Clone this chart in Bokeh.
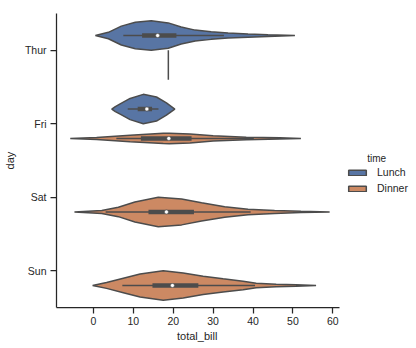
from bokeh.plotting import figure
from bokeh.models import Range1d, FixedTicker, Legend, LegendItem, Label, Title
from bokeh.embed import file_html
from bokeh.resources import INLINE

# ---- categories ----
days = ["Thur", "Fri", "Sat", "Sun"]
times = ["Lunch", "Dinner"]
x_ticks = [0, 10, 20, 30, 40, 50, 60]

# ---- violin outlines (total_bill, relative half-width) ----
thur_lunch_bill = [0.5, 3.75, 7.0, 10.5, 14.5, 18.75, 22.0, 25.5, 29.5, 33.75, 38.75, 43.75, 50.5]
thur_lunch_dens = [0.0, 0.22, 0.64, 0.90, 1.0, 0.86, 0.58, 0.37, 0.26, 0.17, 0.11, 0.06, 0.0]

fri_lunch_bill = [4.6, 5.5, 6.7, 9.2, 12.5, 15.8, 18.3, 20.4]
fri_lunch_dens = [0.0, 0.17, 0.35, 0.72, 1.0, 0.82, 0.42, 0.0]

fri_dinner_bill = [-5.8, 0.8, 9.2, 17.5, 19.0, 24.2, 30.0, 38.3, 46.7, 52.0]
fri_dinner_dens = [0.0, 0.07, 0.22, 0.35, 0.36, 0.31, 0.18, 0.09, 0.04, 0.0]

sat_dinner_bill = [-4.75, 2.1, 6.25, 10.4, 16.25, 22.1, 27.1, 32.9, 38.75, 45.4, 52.0, 59.2]
sat_dinner_dens = [0.0, 0.1, 0.32, 0.68, 1.0, 0.88, 0.62, 0.36, 0.19, 0.1, 0.04, 0.0]

sun_dinner_bill = [-0.2, 3.3, 7.5, 11.7, 17.5, 22.5, 27.5, 32.5, 37.5, 40.8, 45.8, 50.8, 55.8]
sun_dinner_dens = [0.0, 0.2, 0.49, 0.78, 1.0, 0.85, 0.62, 0.45, 0.29, 0.15, 0.09, 0.05, 0.0]

# single Thursday dinner observation
thur_dinner_bill = 18.78

# ---- inner box summaries ----
box_day = ["Thur", "Fri", "Fri", "Sat", "Sun"]
box_time = ["Lunch", "Lunch", "Dinner", "Dinner", "Dinner"]
box_lo = [7.5, 8.6, 5.75, 3.07, 7.25]
box_q1 = [12.2, 11.1, 11.9, 13.8, 14.8]
box_med = [16.1, 13.4, 18.9, 18.3, 19.8]
box_q3 = [20.8, 14.7, 24.6, 25.2, 26.3]
box_hi = [32.7, 16.3, 40.2, 39.4, 40.5]

# ---- styling ----
colors = {"Lunch": "#5875a4", "Dinner": "#cc8963"}
gray = "#4c4c4c"
ink = "#262626"
font = "Liberation Sans"
dodge = 0.2
half = 0.2
x_lo, x_hi = -9.25, 61.7          # visible axis extent
x_frame_hi = 80.97                # frame runs on to the canvas edge (room for legend)

def center(day, time):
    return days.index(day) + (-dodge if time == "Lunch" else dodge)

p = figure(width=416, height=348, output_backend="svg", toolbar_location=None,
           x_range=Range1d(x_lo, x_frame_hi), y_range=Range1d(3.5, -0.5),
           min_border_left=53, min_border_right=0, min_border_top=13, min_border_bottom=41)
p.outline_line_color = None
p.grid.grid_line_color = None
p.background_fill_color = "white"
p.border_fill_color = "white"

violins = [
    ("Thur", "Lunch", thur_lunch_bill, thur_lunch_dens),
    ("Fri", "Lunch", fri_lunch_bill, fri_lunch_dens),
    ("Fri", "Dinner", fri_dinner_bill, fri_dinner_dens),
    ("Sat", "Dinner", sat_dinner_bill, sat_dinner_dens),
    ("Sun", "Dinner", sun_dinner_bill, sun_dinner_dens),
]
legend_r = {}
for day, time, bill, dens in violins:
    c = center(day, time)
    xs = list(bill) + list(bill[::-1])
    ys = [c - d * half for d in dens] + [c + d * half for d in dens[::-1]]
    r = p.patch(xs, ys, fill_color=colors[time], line_color=gray, line_width=1.5)
    legend_r.setdefault(time, r)

# Thursday dinner: single observation as a line
tc = center("Thur", "Dinner")
p.segment(x0=[thur_dinner_bill], y0=[tc - half], x1=[thur_dinner_bill], y1=[tc + half],
          line_color=gray, line_width=1.5)

cy = [center(d, t) for d, t in zip(box_day, box_time)]
p.segment(x0=box_lo, y0=cy, x1=box_hi, y1=cy, line_color=gray, line_width=1.5)
p.segment(x0=box_q1, y0=cy, x1=box_q3, y1=cy, line_color=gray, line_width=4.5)
p.scatter(box_med, cy, size=4, fill_color="white", line_color=gray, line_width=0.5)

# axes
p.xaxis.ticker = FixedTicker(ticks=x_ticks)
p.xaxis.bounds = (x_lo, x_hi)
p.yaxis.ticker = FixedTicker(ticks=[0, 1, 2, 3])
p.yaxis.major_label_overrides = {i: d for i, d in enumerate(days)}
p.yaxis.axis_label = "day"
for ax in (p.xaxis, p.yaxis):
    ax.axis_line_color = ink
    ax.axis_line_width = 1.25
    ax.major_tick_line_color = ink
    ax.major_tick_line_width = 1.25
    ax.major_tick_out = 6
    ax.major_tick_in = 0
    ax.minor_tick_line_color = None
    ax.major_label_text_font = font
    ax.major_label_text_font_size = "10.5px"
    ax.major_label_text_color = ink
    ax.axis_label_text_font = font
    ax.axis_label_text_font_size = "11px"
    ax.axis_label_text_font_style = "normal"
    ax.axis_label_text_color = ink
p.xaxis.major_label_standoff = 3
p.yaxis.major_label_standoff = 4
p.yaxis.axis_label_standoff = 6

# x axis title, placed under the visible axis
p.add_layout(Title(text="total_bill", align="left", offset=120.5, standoff=0,
                   text_font=font, text_font_size="11px", text_font_style="normal",
                   text_color=ink), "below")

legend = Legend(items=[LegendItem(label=t, renderers=[legend_r[t]]) for t in times],
                location=(290, 113), padding=0, margin=0, spacing=4,
                glyph_width=22, glyph_height=7, label_height=11, label_standoff=9,
                label_text_font=font, label_text_font_size="10.5px", label_text_color=ink,
                background_fill_alpha=0, border_line_color=None)
p.add_layout(legend, "center")

p.add_layout(Label(x=320.2, y=149.5, x_units="screen", y_units="screen", text="time",
                   text_align="center", text_baseline="middle", text_font=font,
                   text_font_size="10px", text_color=ink))

open("out.html", "w").write(file_html(p, INLINE))
